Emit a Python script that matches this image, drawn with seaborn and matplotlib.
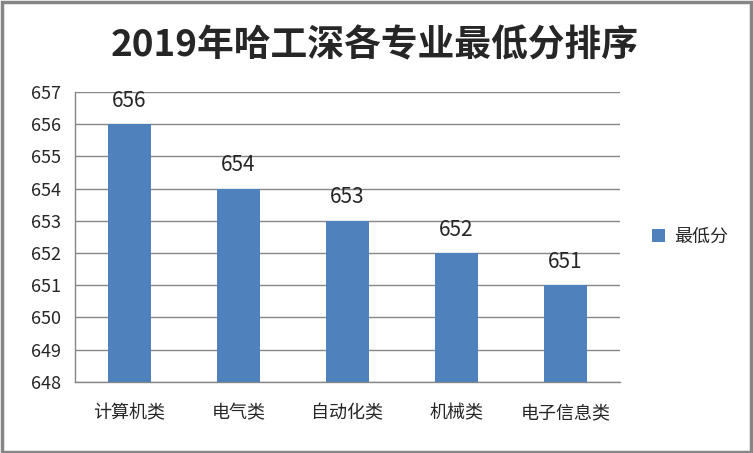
import matplotlib
matplotlib.use('Agg')
import matplotlib.pyplot as plt
import seaborn as sns
import pandas as pd
from matplotlib.patches import Rectangle

# Chart data
majors = ['计算机类', '电气类', '自动化类', '机械类', '电子信息类']
min_scores = [656, 654, 653, 652, 651]
y_ticks = list(range(648, 658))

df = pd.DataFrame({'专业': majors, '最低分': min_scores})

sns.set_style('white')
plt.rcParams['font.family'] = ['Noto Sans CJK SC', 'DejaVu Sans']

fig = plt.figure(figsize=(7.53, 4.53), dpi=100)
ax = fig.add_axes([0.0996, 0.157, 0.7235, 0.64])

sns.barplot(data=df, x='专业', y='最低分', color='#4F81BD', width=0.4,
            saturation=1, ax=ax, label='最低分', zorder=3,
            edgecolor='none', linewidth=0)

# bars start from the axis bottom (648), not from zero
for patch, v in zip(ax.patches, min_scores):
    patch.set_y(y_ticks[0])
    patch.set_height(v - y_ticks[0])

ax.set_ylim(y_ticks[0], y_ticks[-1])
ax.set_xlim(-0.5, len(majors) - 0.5)
ax.set_yticks(y_ticks)
ax.set_yticklabels([str(t) for t in y_ticks], fontsize=13)
ax.set_xticks(range(len(majors)))
ax.set_xticklabels(majors, fontsize=13)
ax.set_xlabel('')
ax.set_ylabel('')

ax.yaxis.grid(True, color='#878787', linewidth=1, zorder=0)
for side in ['top', 'right']:
    ax.spines[side].set_visible(False)
for side in ['left', 'bottom']:
    ax.spines[side].set_color('#878787')
    ax.spines[side].set_linewidth(1)

# Excel style ticks: y ticks outside, x ticks at category boundaries
ax.tick_params(axis='y', length=6, color='#878787', width=1, pad=4)
ax.tick_params(axis='x', length=0, pad=16)
ax.set_xticks([i - 0.5 for i in range(len(majors) + 1)], minor=True)
ax.tick_params(axis='x', which='minor', length=6, color='#878787', width=1)

for i, v in enumerate(min_scores):
    ax.annotate(str(v), (i, v), xytext=(0, 9), textcoords='offset points',
                ha='center', va='bottom', fontsize=15)

ax.legend(loc='center left', bbox_to_anchor=(1.03, 0.5), frameon=False,
          fontsize=13, handlelength=0.7, handleheight=0.7, handletextpad=0.5)

fig.suptitle('2019年哈工深各专业最低分排序', fontsize=26.5, fontweight='bold',
             x=0.498, y=0.94)

fig.patches.append(Rectangle((0.002, 0.003), 0.995, 0.993, transform=fig.transFigure,
                             fill=False, edgecolor='#868686', linewidth=2.5))

fig.savefig('out.png', dpi=100)
